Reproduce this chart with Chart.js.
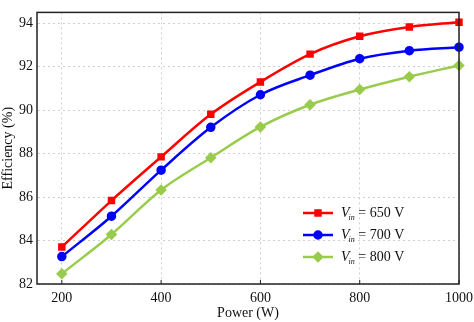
<!DOCTYPE html>
<html>
<head>
<meta charset="utf-8">
<script src="https://cdn.jsdelivr.net/npm/chart.js@4"></script>
<style>
  html, body { margin: 0; padding: 0; background: #fff; }
  #wrap { width: 474px; height: 322px; }
</style>
</head>
<body>
<div id="wrap"><canvas id="chart" width="474" height="322"></canvas></div>
<script>
const power = [200, 300, 400, 500, 600, 700, 800, 900, 1000];
const eff650 = [83.7, 85.84, 87.85, 89.81, 91.3, 92.58, 93.4, 93.83, 94.05];
const eff700 = [83.26, 85.12, 87.24, 89.21, 90.71, 91.61, 92.37, 92.74, 92.9];
const eff800 = [82.47, 84.28, 86.33, 87.81, 89.23, 90.25, 90.95, 91.54, 92.06];
const voltages = ['650', '700', '800'];
const xTicks = [200, 400, 600, 800, 1000];
const yTicks = [82, 84, 86, 88, 90, 92, 94];

const serif = '"Liberation Serif", "DejaVu Serif", serif';

function points(ys) {
    return power.map((p, i) => ({ x: p, y: ys[i] }));
}

function series(ys, color, style, volt) {
    return {
        label: 'Vin = ' + volt + ' V',
        data: points(ys),
        borderColor: color,
        backgroundColor: color,
        borderWidth: 2.5,
        pointStyle: style,
        pointRadius: style === 'rectRot' ? 4 : 3.5,
        pointHoverRadius: 3.5,
        cubicInterpolationMode: 'monotone',
        clip: false,
    };
}

// box frame, inward ticks on the power axis and the in-plot legend
const framePlugin = {
    id: 'frame',
    afterDraw(chart) {
        const { ctx, chartArea: a, scales } = chart;
        ctx.save();
        ctx.strokeStyle = '#222';
        ctx.lineWidth = 1.5;
        ctx.strokeRect(a.left, a.top, a.right - a.left, a.bottom - a.top);

        ctx.lineWidth = 1;
        xTicks.forEach(v => {
            const px = scales.x.getPixelForValue(v);
            ctx.beginPath();
            ctx.moveTo(px, a.bottom);
            ctx.lineTo(px, a.bottom - 4);
            ctx.stroke();
        });

        const x0 = 303, x1 = 333, tx = 341;
        chart.data.datasets.forEach((ds, i) => {
            const y = 213 + i * 22;
            ctx.strokeStyle = ds.borderColor;
            ctx.lineWidth = 2.5;
            ctx.beginPath();
            ctx.moveTo(x0, y);
            ctx.lineTo(x1, y);
            ctx.stroke();
            ctx.fillStyle = ds.backgroundColor;
            Chart.helpers.drawPoint(ctx, { pointStyle: ds.pointStyle, radius: ds.pointRadius, borderWidth: 1 }, (x0 + x1) / 2, y);

            ctx.fillStyle = '#111';
            ctx.textBaseline = 'middle';
            ctx.textAlign = 'left';
            ctx.font = 'italic 14px ' + serif;
            ctx.fillText('V', tx, y);
            let w = ctx.measureText('V').width;
            ctx.font = 'italic 8px ' + serif;
            ctx.fillText('in', tx + w - 1, y + 5);
            w += ctx.measureText('in').width;
            ctx.font = '14px ' + serif;
            ctx.fillText(' = ' + voltages[i] + ' V', tx + w - 1, y);
        });
        ctx.restore();
    }
};

new Chart(document.getElementById('chart'), {
    type: 'line',
    data: {
        datasets: [
            series(eff650, '#ff0000', 'rect', voltages[0]),
            series(eff700, '#0000ff', 'circle', voltages[1]),
            series(eff800, '#99cc4c', 'rectRot', voltages[2]),
        ]
    },
    options: {
        responsive: false,
        animation: false,
        layout: { padding: { top: 3, right: 0, left: 0, bottom: 0 } },
        plugins: {
            legend: { display: false },
            tooltip: { enabled: false },
        },
        scales: {
            x: {
                type: 'linear',
                min: 150,
                max: 1000,
                afterBuildTicks: s => { s.ticks = xTicks.map(v => ({ value: v })); },
                afterFit: s => { s.height = 38; s.paddingRight = 15; },
                grid: {
                    color: '#cfcfcf',
                    lineWidth: 1,
                    drawTicks: false,
                },
                border: { display: true, color: 'transparent', dash: [2, 3] },
                ticks: {
                    color: '#111',
                    padding: 6,
                    maxRotation: 0,
                    callback: v => String(v),
                    font: { family: serif, size: 14 },
                },
                title: {
                    display: true,
                    text: 'Power (W)',
                    color: '#111',
                    padding: 0,
                    font: { family: serif, size: 14 },
                },
            },
            y: {
                min: 82,
                max: 94.5,
                afterBuildTicks: s => { s.ticks = yTicks.map(v => ({ value: v })); },
                afterFit: s => { s.width = 37; },
                grid: {
                    color: '#cfcfcf',
                    lineWidth: 1,
                    drawTicks: false,
                },
                border: { display: true, color: 'transparent', dash: [2, 3] },
                ticks: {
                    color: '#111',
                    padding: 4,
                    callback: v => String(v),
                    font: { family: serif, size: 14 },
                },
                title: {
                    display: true,
                    text: 'Efficiency (%)',
                    color: '#111',
                    padding: 0,
                    font: { family: serif, size: 14 },
                },
            },
        },
    },
    plugins: [framePlugin],
});
</script>
</body>
</html>
